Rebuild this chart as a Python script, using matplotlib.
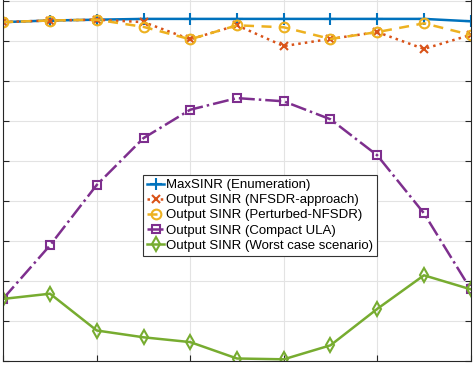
import numpy as np
import matplotlib.pyplot as plt

# x positions (11 samples, only grid visible in the crop)
x = np.arange(11)

max_sinr = [8.46, 8.50, 8.52, 8.54, 8.54, 8.54, 8.54, 8.54, 8.54, 8.54, 8.48]
nfsdr = [8.46, 8.50, 8.52, 8.46, 8.03, 8.38, 7.86, 8.04, 8.21, 7.79, 8.14]
perturbed = [8.46, 8.50, 8.52, 8.34, 8.03, 8.38, 8.33, 8.04, 8.21, 8.43, 8.14]
compact_ula = [1.55, 2.88, 4.39, 5.56, 6.27, 6.56, 6.48, 6.03, 5.13, 3.68, 1.78]
worst_case = [1.54, 1.67, 0.75, 0.58, 0.46, 0.05, 0.03, 0.38, 1.29, 2.13, 1.78]

labels = ["MaxSINR (Enumeration)",
          "Output SINR (NFSDR-approach)",
          "Output SINR (Perturbed-NFSDR)",
          "Output SINR (Compact ULA)",
          "Output SINR (Worst case scenario)"]

plt.rcParams['font.family'] = ['Liberation Sans', 'DejaVu Sans']

W, H = 474, 365
fig = plt.figure(figsize=(W / 100, H / 100), dpi=100)
left, right, bottom = 3.3, 470.7, 360.5
ax = fig.add_axes([left / W, (H - bottom) / H, (right - left) / W, bottom / H])

lw = 1.8
ax.plot(x, max_sinr, '-', color='#0072BD', marker='+', ms=8, mew=1.5, lw=lw, label=labels[0])
ax.plot(x, nfsdr, ':', color='#D95319', marker='x', ms=6, mew=1.5, lw=lw, label=labels[1])
ax.plot(x, perturbed, '--', color='#EDB120', marker='o', ms=7, mew=1.5, mfc='none', lw=lw,
        dashes=(4, 3), label=labels[2])
ax.plot(x, compact_ula, '-.', color='#7E2F8E', marker='s', ms=5.5, mew=1.5, mfc='none', lw=lw,
        label=labels[3])
ax.plot(x, worst_case, '-', color='#77AC30', marker='d', ms=7, mew=1.5, mfc='none', lw=lw,
        label=labels[4])

ax.set_xlim(0, 10)
ax.set_ylim(0, bottom / 40)
ax.set_xticks(np.arange(0, 11, 2))
ax.set_yticks(np.arange(0, 10, 1))
ax.set_xticklabels([])
ax.set_yticklabels([])
ax.tick_params(direction='in', length=4, color='#262626', top=False, right=True)
ax.grid(True, color='#e3e3e3', lw=0.8)
ax.set_axisbelow(True)
ax.spines['top'].set_visible(False)
for s in ['left', 'bottom', 'right']:
    ax.spines[s].set_color('#262626')
    ax.spines[s].set_linewidth(0.8)

leg = ax.legend(loc='upper left', bbox_to_anchor=(143 / W, 1 - 175 / H),
                bbox_transform=fig.transFigure, fontsize=9.5, handlelength=1.3,
                handletextpad=0.15, labelspacing=0.22, borderpad=0.3,
                borderaxespad=0, fancybox=False, framealpha=1)
leg.get_frame().set_edgecolor('#333333')
leg.get_frame().set_linewidth(0.8)

fig.savefig('out.png', dpi=100)
